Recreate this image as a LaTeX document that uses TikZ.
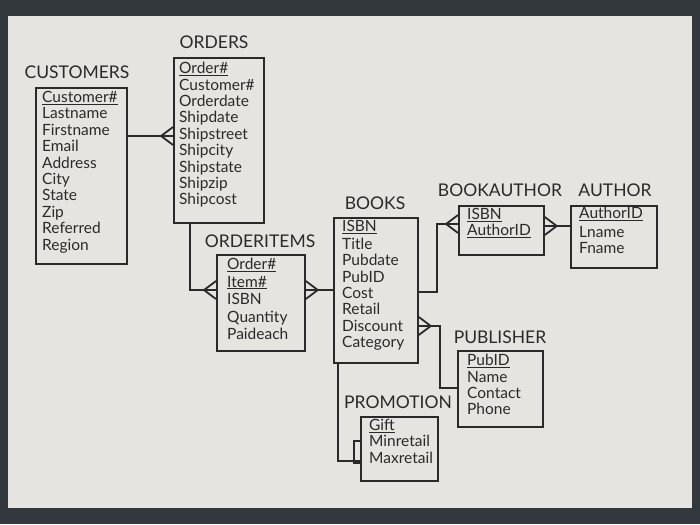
\documentclass[tikz,border=0pt]{standalone}
\usepackage{fontspec}
\setmainfont{Lato}
\begin{document}
\begin{tikzpicture}[x=1pt,y=-1pt,
  box/.style={draw=ink,line width=1.8pt,anchor=north west,inner sep=0pt},
  fld/.style={anchor=north west,align=left,inner sep=0pt,text=ink,font=\fontsize{15.5}{16.4}\selectfont},
  ttl/.style={text=ink,inner sep=0pt,font=\fontsize{17.5}{19}\selectfont},
  con/.style={draw=ink,line width=1.8pt}]
\definecolor{ink}{HTML}{2A2A2A}
\definecolor{bg}{HTML}{E6E4E1}
\definecolor{dark}{HTML}{33383C}
\useasboundingbox (0,0) rectangle (700,524);
\fill[dark] (0,0) rectangle (700,524);
\fill[bg] (8,16) rectangle (692,508);
\newcommand{\ul}[1]{\underline{#1}}
% boxes
\node[box,minimum width=91,minimum height=176] (cust) at (35,87) {};
\node[box,minimum width=90,minimum height=165] (ord) at (173,57) {};
\node[box,minimum width=88,minimum height=96] (oi) at (216,254) {};
\node[box,minimum width=84,minimum height=145] (bk) at (333,217) {};
\node[box,minimum width=85,minimum height=49] (ba) at (458,205) {};
\node[box,minimum width=86,minimum height=62] (au) at (570,205) {};
\node[box,minimum width=85,minimum height=76] (pub) at (457,350) {};
\node[box,minimum width=77,minimum height=64] (pro) at (360,416) {};
% titles
\node[ttl] (tc) at (77,72) {CUSTOMERS};
\node[ttl] (to) at (214,42) {ORDERS};
\node[ttl] (toi) at (260,241) {ORDERITEMS};
\node[ttl] (tb) at (375,203) {BOOKS};
\node[ttl] (tba) at (500,190) {BOOKAUTHOR};
\node[ttl] (tau) at (615,190) {AUTHOR};
\node[ttl] (tp) at (500,337) {PUBLISHER};
\node[ttl] (tpr) at (398,402) {PROMOTION};
% fields
\node[fld] (fc) at (42,91) {\ul{Customer\#}\\Lastname\\Firstname\\Email\\Address\\City\\State\\Zip\\Referred\\Region};
\node[fld] (fo) at (179,62) {\ul{Order\#}\\Customer\#\\Orderdate\\Shipdate\\Shipstreet\\Shipcity\\Shipstate\\Shipzip\\Shipcost};
\node[fld,font=\fontsize{15.5}{17.5}\selectfont] (foi) at (227,258) {\ul{Order\#}\\\ul{Item\#}\\ISBN\\Quantity\\Paideach};
\node[fld] (fb) at (342,220) {\ul{ISBN}\\[1.5pt]Title\\Pubdate\\PubID\\Cost\\Retail\\Discount\\Category};
\node[fld] (fba) at (467,208) {\ul{ISBN}\\\ul{AuthorID}};
\node[fld] (fau) at (579,207) {\ul{AuthorID}\\[2pt]Lname\\Fname};
\node[fld] (fp) at (467,354) {\ul{PubID}\\Name\\Contact\\Phone};
\node[fld] (fpr) at (369,419) {\ul{Gift}\\Minretail\\Maxretail};
% connectors
\draw[con] (cust.east |- 0,136) -- (ord.west |- 0,136);
\draw[con] (ord.west |- 0,127) -- ([xshift=-12]ord.west |- 0,136) -- (ord.west |- 0,145);
\draw[con] ([xshift=17]ord.south west) -- ([xshift=17]ord.south west |- 0,290) -- (oi.west |- 0,290);
\draw[con] (oi.west |- 0,281) -- ([xshift=-12]oi.west |- 0,290) -- (oi.west |- 0,299);
\draw[con] (oi.east |- 0,290) -- (bk.west |- 0,290);
\draw[con] (oi.east |- 0,281) -- ([xshift=12]oi.east |- 0,290) -- (oi.east |- 0,299);
\draw[con] (bk.east |- 0,292) -- (437,292) -- (437,224) -- (ba.west |- 0,224);
\draw[con] (ba.west |- 0,215) -- ([xshift=-12]ba.west |- 0,224) -- (ba.west |- 0,233);
\draw[con] (ba.east |- 0,226) -- (au.west |- 0,226);
\draw[con] (ba.east |- 0,217) -- ([xshift=12]ba.east |- 0,226) -- (ba.east |- 0,235);
\draw[con] (bk.east |- 0,326) -- (440,326) -- (440,388) -- (pub.west |- 0,388);
\draw[con] (bk.east |- 0,317) -- ([xshift=12]bk.east |- 0,326) -- (bk.east |- 0,335);
\draw[con] ([xshift=5]bk.south west) -- ([xshift=5]bk.south west |- 0,461) -- (pro.west |- 0,461);
\draw[con] (pro.west |- 0,441) -- ([xshift=-6]pro.west |- 0,441) -- ([xshift=-6]pro.west |- 0,463) -- (pro.west |- 0,463);
\end{tikzpicture}
\end{document}
